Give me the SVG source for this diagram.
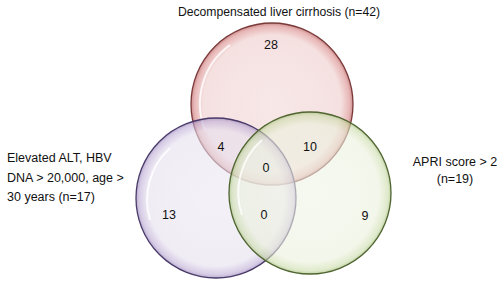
<svg xmlns="http://www.w3.org/2000/svg" width="500" height="287" viewBox="0 0 500 287">
<style>
text{font-family:"Liberation Sans",Arial,sans-serif;font-size:12.5px;fill:#111}
.c{text-anchor:middle}
.t{font-size:12.2px}
.hl{fill:none;stroke:#fff;stroke-width:2;stroke-opacity:0.8}
</style>
<defs>
<radialGradient id="gr" cx="0.5" cy="0.5" r="0.5">
<stop offset="0" stop-color="#f6e2e2"/><stop offset="0.85" stop-color="#f3d9d9"/><stop offset="0.96" stop-color="#e2a4a4"/><stop offset="1" stop-color="#c07070"/>
</radialGradient>
<radialGradient id="gp" cx="0.5" cy="0.5" r="0.5">
<stop offset="0" stop-color="#ece8f2"/><stop offset="0.85" stop-color="#e6e0ee"/><stop offset="0.96" stop-color="#bcaad4"/><stop offset="1" stop-color="#8a76b0"/>
</radialGradient>
<radialGradient id="gg" cx="0.5" cy="0.5" r="0.5">
<stop offset="0" stop-color="#f1f5e8"/><stop offset="0.85" stop-color="#ebf1dd"/><stop offset="0.96" stop-color="#cbdcaa"/><stop offset="1" stop-color="#9cb870"/>
</radialGradient>
</defs>
<g id="red">
<circle cx="272" cy="104" r="81" fill="url(#gr)" fill-opacity="0.8" stroke="#7a3a3a" stroke-width="1.3"/>
<path class="hl" d="M205,130 A72,72 0 0 1 230,45"/>
</g>
<g id="purple">
<circle cx="216" cy="198" r="80" fill="url(#gp)" fill-opacity="0.6" stroke="#4a3a6a" stroke-width="1.3"/>
<path class="hl" d="M150,220 A70,70 0 0 1 170,148"/>
</g>
<g id="green">
<circle cx="310" cy="193" r="81" fill="url(#gg)" fill-opacity="0.6" stroke="#4f6530" stroke-width="1.3"/>
<path class="hl" d="M242,215 A70,70 0 0 1 262,140"/>
</g>
<g id="labels">
<text class="c t" x="279" y="16">Decompensated liver cirrhosis (n=42)</text>
<text x="7" y="162">Elevated ALT, HBV</text>
<text x="7" y="182">DNA &gt; 20,000, age &gt;</text>
<text x="7" y="201">30 years (n=17)</text>
<text class="c" x="455" y="166">APRI score &gt; 2</text>
<text class="c" x="455" y="183">(n=19)</text>
<text class="c" x="271" y="49">28</text>
<text class="c" x="221" y="151">4</text>
<text class="c" x="310" y="151">10</text>
<text class="c" x="266" y="172">0</text>
<text class="c" x="169" y="219">13</text>
<text class="c" x="264" y="219">0</text>
<text class="c" x="365" y="220">9</text>
</g>
<g id="connectors"/>
</svg>
